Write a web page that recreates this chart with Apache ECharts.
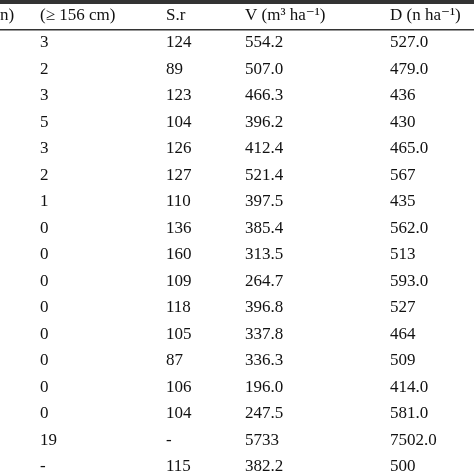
<!DOCTYPE html><html><head><meta charset="utf-8"><script src="https://cdn.jsdelivr.net/npm/echarts@6/dist/echarts.min.js"></script>
<style>html,body{margin:0;padding:0;background:#fff}#c{width:474px;height:474px}</style></head><body><div id="c"></div>
<script>
const headers = ["n)", "(≥ 156 cm)", "S.r", "V (m³ ha⁻¹)", "D (n ha⁻¹)"];
const col2 = ["3","2","3","5","3","2","1","0","0","0","0","0","0","0","0","19","-"];
const sr = ["124","89","123","104","126","127","110","136","160","109","118","105","87","106","104","-","115"];
const vol = ["554.2","507.0","466.3","396.2","412.4","521.4","397.5","385.4","313.5","264.7","396.8","337.8","336.3","196.0","247.5","5733","382.2"];
const dens = ["527.0","479.0","436","430","465.0","567","435","562.0","513","593.0","527","464","509","414.0","581.0","7502.0","500"];
const colX = [0, 40, 166, 245, 390];
const font = '17px "Liberation Serif", "DejaVu Serif", serif';
const els = [];
els.push({type:'rect', shape:{x:0,y:0,width:474,height:4}, style:{fill:'#333'}});
els.push({type:'rect', shape:{x:0,y:29,width:474,height:1.5}, style:{fill:'#333'}});
headers.forEach((h,i)=>els.push({type:'text', x:colX[i], y:16, style:{text:h, font, fill:'#111', verticalAlign:'middle'}}));
const cols = [col2, sr, vol, dens];
for (let r=0;r<col2.length;r++){
  cols.forEach((c,j)=>els.push({type:'text', x:colX[j+1], y:43+r*26.5, style:{text:c[r], font, fill:'#111', verticalAlign:'middle'}}));
}
const chart = echarts.init(document.getElementById('c'));
chart.setOption({animation:false, graphic:els});
</script></body></html>
